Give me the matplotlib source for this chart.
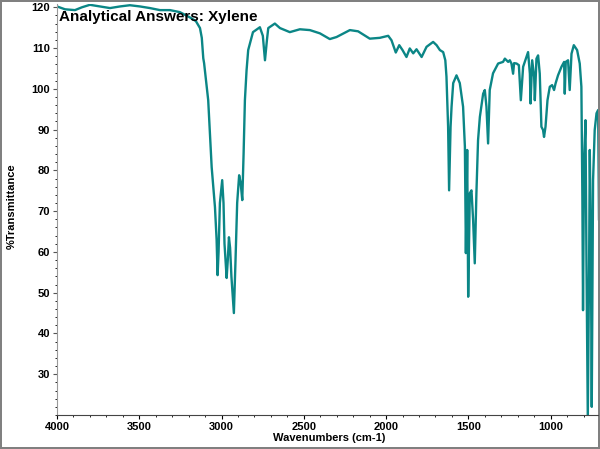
import matplotlib
matplotlib.use('Agg')
import matplotlib.pyplot as plt
from matplotlib.ticker import MultipleLocator

plt.rcParams['font.family'] = ['Liberation Sans', 'DejaVu Sans']

# spectrum (wavenumber, %T)
wavenumbers = [4000, 3951, 3891, 3848, 3800, 3739, 3678, 3617, 3557, 3496,
               3435, 3374, 3313, 3253, 3192, 3156, 3131, 3120, 3111, 3106,
               3081, 3060, 3040, 3030, 3024, 3018, 3010, 2996, 2988, 2982,
               2969, 2962, 2955, 2948, 2940, 2925, 2915, 2905, 2893, 2884,
               2874, 2866, 2858, 2848, 2838, 2809, 2767, 2749, 2736, 2724,
               2716, 2676, 2645, 2585, 2524, 2463, 2402, 2342, 2301, 2220,
               2170, 2099, 2038, 1987, 1967, 1941, 1920, 1900, 1876, 1856,
               1835, 1815, 1784, 1754, 1714, 1693, 1673, 1653, 1640, 1633,
               1623, 1617, 1608, 1602, 1592, 1572, 1552, 1532, 1521, 1515,
               1507, 1501, 1491, 1481, 1471, 1461, 1451, 1441, 1430, 1410,
               1400, 1390, 1380, 1370, 1350, 1319, 1289, 1278, 1258, 1248,
               1238, 1228, 1222, 1207, 1193, 1181, 1167, 1147, 1137, 1126,
               1122, 1112, 1100, 1096, 1086, 1076, 1066, 1056, 1046, 1040,
               1031, 1019, 1005, 991, 979, 970, 955, 934, 918, 914,
               908, 894, 884, 873, 859, 839, 823, 813, 807, 803,
               797, 788, 782, 774, 766, 762, 756, 750, 742, 732,
               721, 711, 706]
transmittance = [120.2, 119.5, 119.3, 120.0, 120.6, 120.2, 119.8, 120.2, 120.5, 120.2,
                 119.8, 119.3, 119.3, 118.8, 117.5, 116.6, 114.9, 112.5, 107.5, 106.3,
                 97.2, 80.8, 71.0, 63.0, 54.3, 60.0, 72.0, 77.6, 72.0, 62.0,
                 53.6, 58.0, 63.6, 61.0, 54.0, 45.0, 58.0, 72.0, 78.8, 77.0,
                 72.7, 84.0, 97.2, 104.5, 109.5, 113.9, 115.1, 113.0, 107.0, 112.0,
                 114.9, 116.0, 114.9, 113.9, 114.6, 114.4, 113.6, 112.2, 112.7, 114.4,
                 114.1, 112.3, 112.5, 113.0, 111.9, 108.9, 110.7, 109.5, 107.8, 109.9,
                 108.7, 109.7, 107.8, 110.3, 111.5, 110.7, 109.5, 109.0, 107.0, 103.0,
                 90.7, 75.1, 90.7, 95.6, 101.4, 103.3, 101.4, 95.6, 85.8, 59.7,
                 85.0, 49.0, 74.4, 75.1, 67.8, 57.2, 74.4, 87.4, 93.1, 98.8,
                 99.7, 95.6, 86.6, 99.7, 103.8, 106.2, 106.6, 107.4, 106.6, 107.0,
                 106.2, 103.7, 106.3, 106.2, 105.8, 97.2, 105.4, 107.8, 109.0, 103.7,
                 96.4, 107.0, 102.9, 97.2, 107.4, 108.2, 103.7, 90.7, 89.9, 88.2,
                 90.7, 97.2, 100.5, 100.9, 99.7, 101.3, 103.3, 105.4, 106.6, 98.8,
                 106.6, 107.0, 99.7, 108.6, 110.7, 109.5, 106.2, 100.5, 73.5, 45.7,
                 81.7, 92.3, 57.2, 19.3, 57.0, 85.0, 65.3, 22.0, 77.6, 89.9,
                 94.0, 94.8, 68.0]

title = 'Analytical Answers: Xylene'
xlabel = 'Wavenumbers (cm-1)'
ylabel = '%Transmittance'

fig = plt.figure(figsize=(6, 4.49), dpi=100)
fig.patch.set_edgecolor('#808080')
fig.patch.set_linewidth(1.5)

ax = fig.add_axes([57 / 600, 1 - 415 / 449, 541 / 600, 411 / 449])
ax.plot(wavenumbers, transmittance, color='#0b8686', linewidth=1.7)

ax.set_xlim(4000, 712)
ax.set_ylim(20, 120.8)

ax.xaxis.set_major_locator(MultipleLocator(500))
ax.xaxis.set_minor_locator(MultipleLocator(100))
ax.yaxis.set_major_locator(MultipleLocator(10))
ax.yaxis.set_minor_locator(MultipleLocator(2))
ax.set_yticks(range(30, 121, 10))

for s in ('top', 'right'):
    ax.spines[s].set_visible(False)
ax.spines['left'].set_color('#999999')
ax.spines['bottom'].set_color('#444444')

ax.tick_params(axis='both', which='major', length=3, width=0.8, labelsize=8, pad=2)
ax.tick_params(axis='both', which='minor', length=1.5, width=0.6)
ax.tick_params(axis='y', colors='#555555', labelcolor='black')
for lab in ax.get_xticklabels() + ax.get_yticklabels():
    lab.set_fontweight('bold')

ax.text(0.004, 0.985, title, transform=ax.transAxes, ha='left', va='top',
        fontsize=11, fontweight='bold', color='black')

fig.text(329 / 600, 1 - 438 / 449, xlabel, ha='center', va='center',
         fontsize=8, fontweight='bold')
fig.text(12 / 600, 1 - 206 / 449, ylabel, ha='center', va='center',
         rotation=90, fontsize=8, fontweight='bold')

fig.savefig('out.png', dpi=100, edgecolor=fig.get_edgecolor())
